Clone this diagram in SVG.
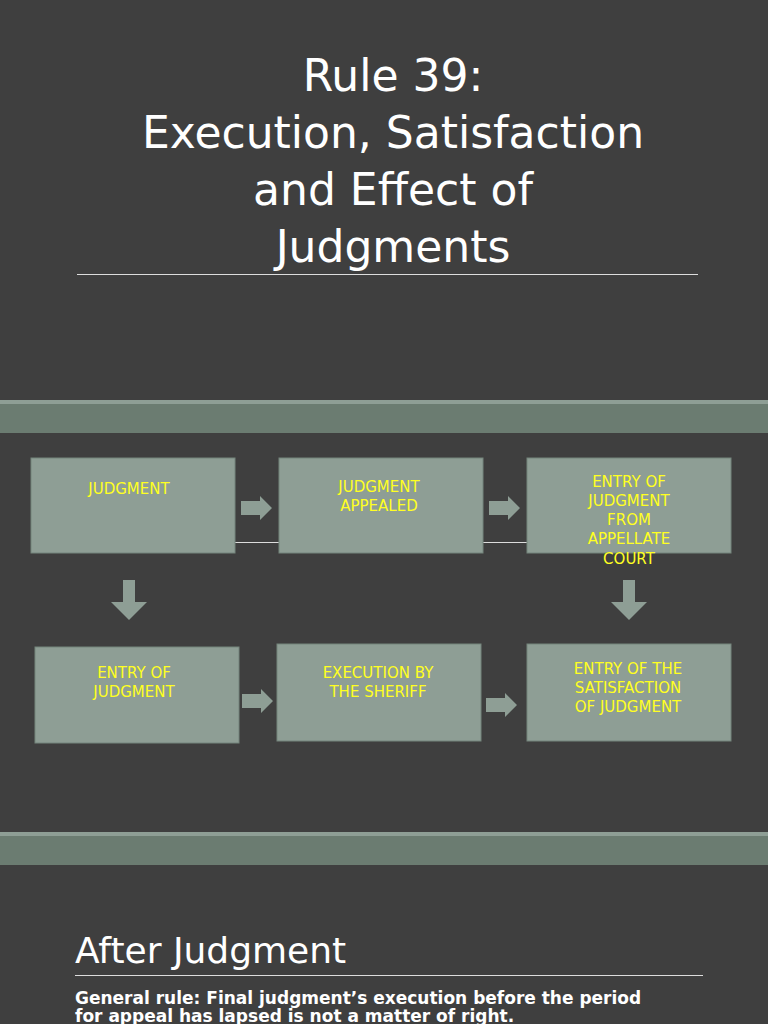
<svg xmlns="http://www.w3.org/2000/svg" width="768" height="1024" viewBox="0 0 768 1024">
<defs>
<style>
.box{fill:#8e9e95;stroke:#75857c;stroke-width:1}
.lbl{font-family:"DejaVu Sans",Verdana,sans-serif;font-size:15px;fill:#ffff22;text-anchor:middle}
.arr{fill:#8e9e95}
.t{font-family:"DejaVu Sans",sans-serif;fill:#fff}
</style>
<path id="ra" d="M0,-7 H19 V-12 L31,0 L19,12 V7 H0 Z"/>
<path id="da" d="M-6,0 H6 V22 H18 L0,40 L-18,22 H-6 Z"/>
</defs>
<rect width="768" height="1024" fill="#3f3f3f"/>
<g class="t" font-size="44" text-anchor="middle">
<text x="393" y="91">Rule 39:</text>
<text x="393" y="148">Execution, Satisfaction</text>
<text x="393" y="205">and Effect of</text>
<text x="393" y="262">Judgments</text>
</g>
<line x1="77" y1="274.5" x2="698" y2="274.5" stroke="#ddd" stroke-width="1"/>
<rect x="0" y="400" width="768" height="33" fill="#6b7c71"/>
<rect x="0" y="400" width="768" height="4" fill="#8e9e95"/>
<rect x="0" y="832" width="768" height="33" fill="#6b7c71"/>
<rect x="0" y="832" width="768" height="4" fill="#8e9e95"/>
<g id="connectors">
<line x1="235" y1="542.5" x2="279" y2="542.5" stroke="#ddd"/>
<line x1="483" y1="542.5" x2="527" y2="542.5" stroke="#ddd"/>
<use href="#ra" class="arr" x="241" y="508"/>
<use href="#ra" class="arr" x="489" y="508"/>
<use href="#da" class="arr" x="129" y="580"/>
<use href="#da" class="arr" x="629" y="580"/>
<use href="#ra" class="arr" x="242" y="701"/>
<use href="#ra" class="arr" x="486" y="705"/>
</g>
<g id="n1"><rect class="box" x="31" y="458" width="204" height="95"/><text class="lbl" x="129" y="494">JUDGMENT</text></g>
<g id="n2"><rect class="box" x="279" y="458" width="204" height="95"/><text class="lbl" x="379" y="492">JUDGMENT</text><text class="lbl" x="379" y="511">APPEALED</text></g>
<g id="n3"><rect class="box" x="527" y="458" width="204" height="95"/><text class="lbl" x="629" y="487">ENTRY OF</text><text class="lbl" x="629" y="506">JUDGMENT</text><text class="lbl" x="629" y="525">FROM</text><text class="lbl" x="629" y="544">APPELLATE</text><text class="lbl" x="629" y="564">COURT</text></g>
<g id="n4"><rect class="box" x="35" y="647" width="204" height="96"/><text class="lbl" x="134" y="678">ENTRY OF</text><text class="lbl" x="134" y="697">JUDGMENT</text></g>
<g id="n5"><rect class="box" x="277" y="644" width="204" height="97"/><text class="lbl" x="378" y="678">EXECUTION BY</text><text class="lbl" x="378" y="697">THE SHERIFF</text></g>
<g id="n6"><rect class="box" x="527" y="644" width="204" height="97"/><text class="lbl" x="628" y="674">ENTRY OF THE</text><text class="lbl" x="628" y="693">SATISFACTION</text><text class="lbl" x="628" y="712">OF JUDGMENT</text></g>
<text class="t" x="75" y="963" font-size="36">After Judgment</text>
<line x1="75" y1="975.5" x2="703" y2="975.5" stroke="#ddd"/>
<g class="t" font-size="17" font-weight="bold">
<text x="75" y="1004">General rule: Final judgment’s execution before the period</text>
<text x="75" y="1022">for appeal has lapsed is not a matter of right.</text>
</g>
</svg>
